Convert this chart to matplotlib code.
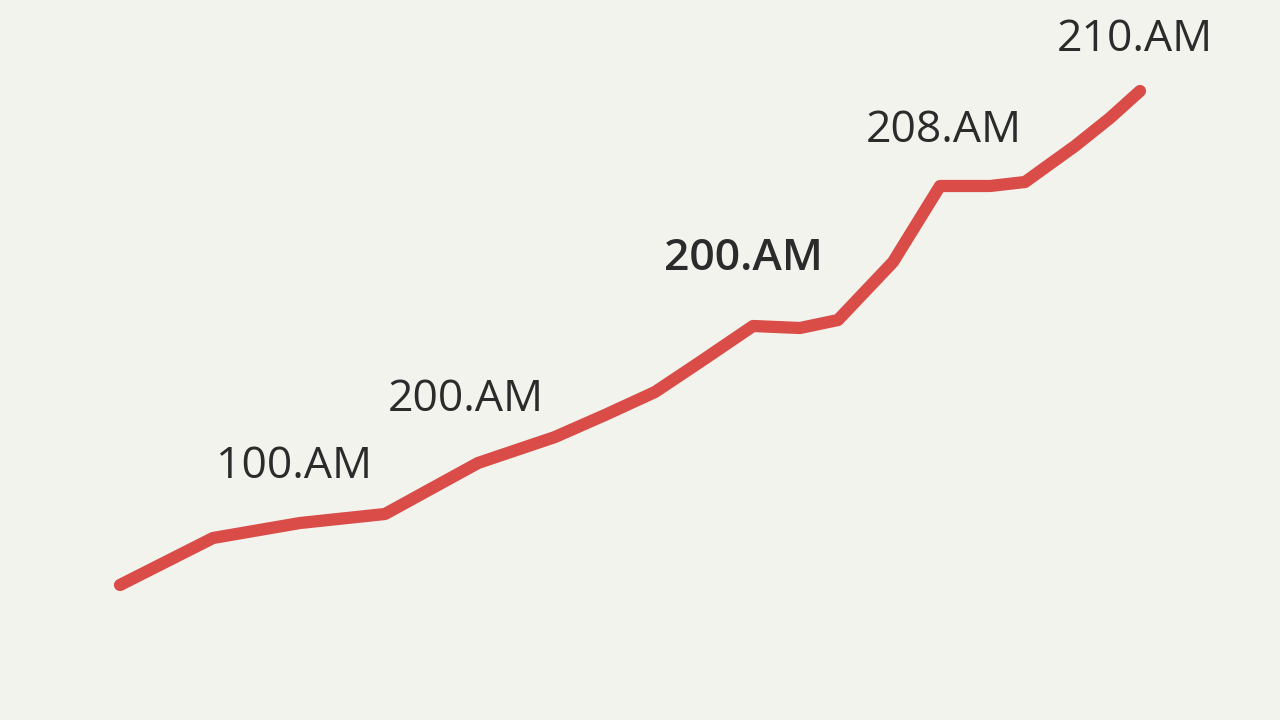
import matplotlib.pyplot as plt

# line values (x in tenths of the canvas width, y in arbitrary units)
x_vals = [12, 21.3, 30, 38.5, 47.8, 55.5, 60.5, 65.5, 70, 75.3, 80, 83.8, 89.3, 94, 99, 102.5, 107.5, 111, 114]
y_vals = [135, 182, 197, 206, 257, 283, 305, 328, 358, 394, 392, 400, 458, 534, 534, 538, 574, 602, 629]

# annotations
label_text = ["100.AM", "200.AM", "200.AM", "208.AM", "210.AM"]
label_x = [29.4, 46.6, 74.3, 94.4, 113.5]
label_y = [253, 320, 462, 589, 680]
label_bold = [False, False, True, False, False]

bg = "#f3f3ee"
fig = plt.figure(figsize=(12.8, 7.2), dpi=100)
fig.patch.set_facecolor(bg)
ax = fig.add_axes([0, 0, 1, 1])
ax.set_facecolor(bg)
ax.axis("off")
ax.set_xlim(0, 128)
ax.set_ylim(0, 720)

ax.plot(x_vals, y_vals, color="#d94c47", lw=8.8,
        solid_capstyle="round", solid_joinstyle="round")

for t, lx, ly, b in zip(label_text, label_x, label_y, label_bold):
    ax.text(lx, ly, t, ha="center", va="center", fontsize=32,
            family="Open Sans", color="#2b2b2b",
            fontweight="semibold" if b else "normal")

plt.savefig("out.png", dpi=100, facecolor=bg)
